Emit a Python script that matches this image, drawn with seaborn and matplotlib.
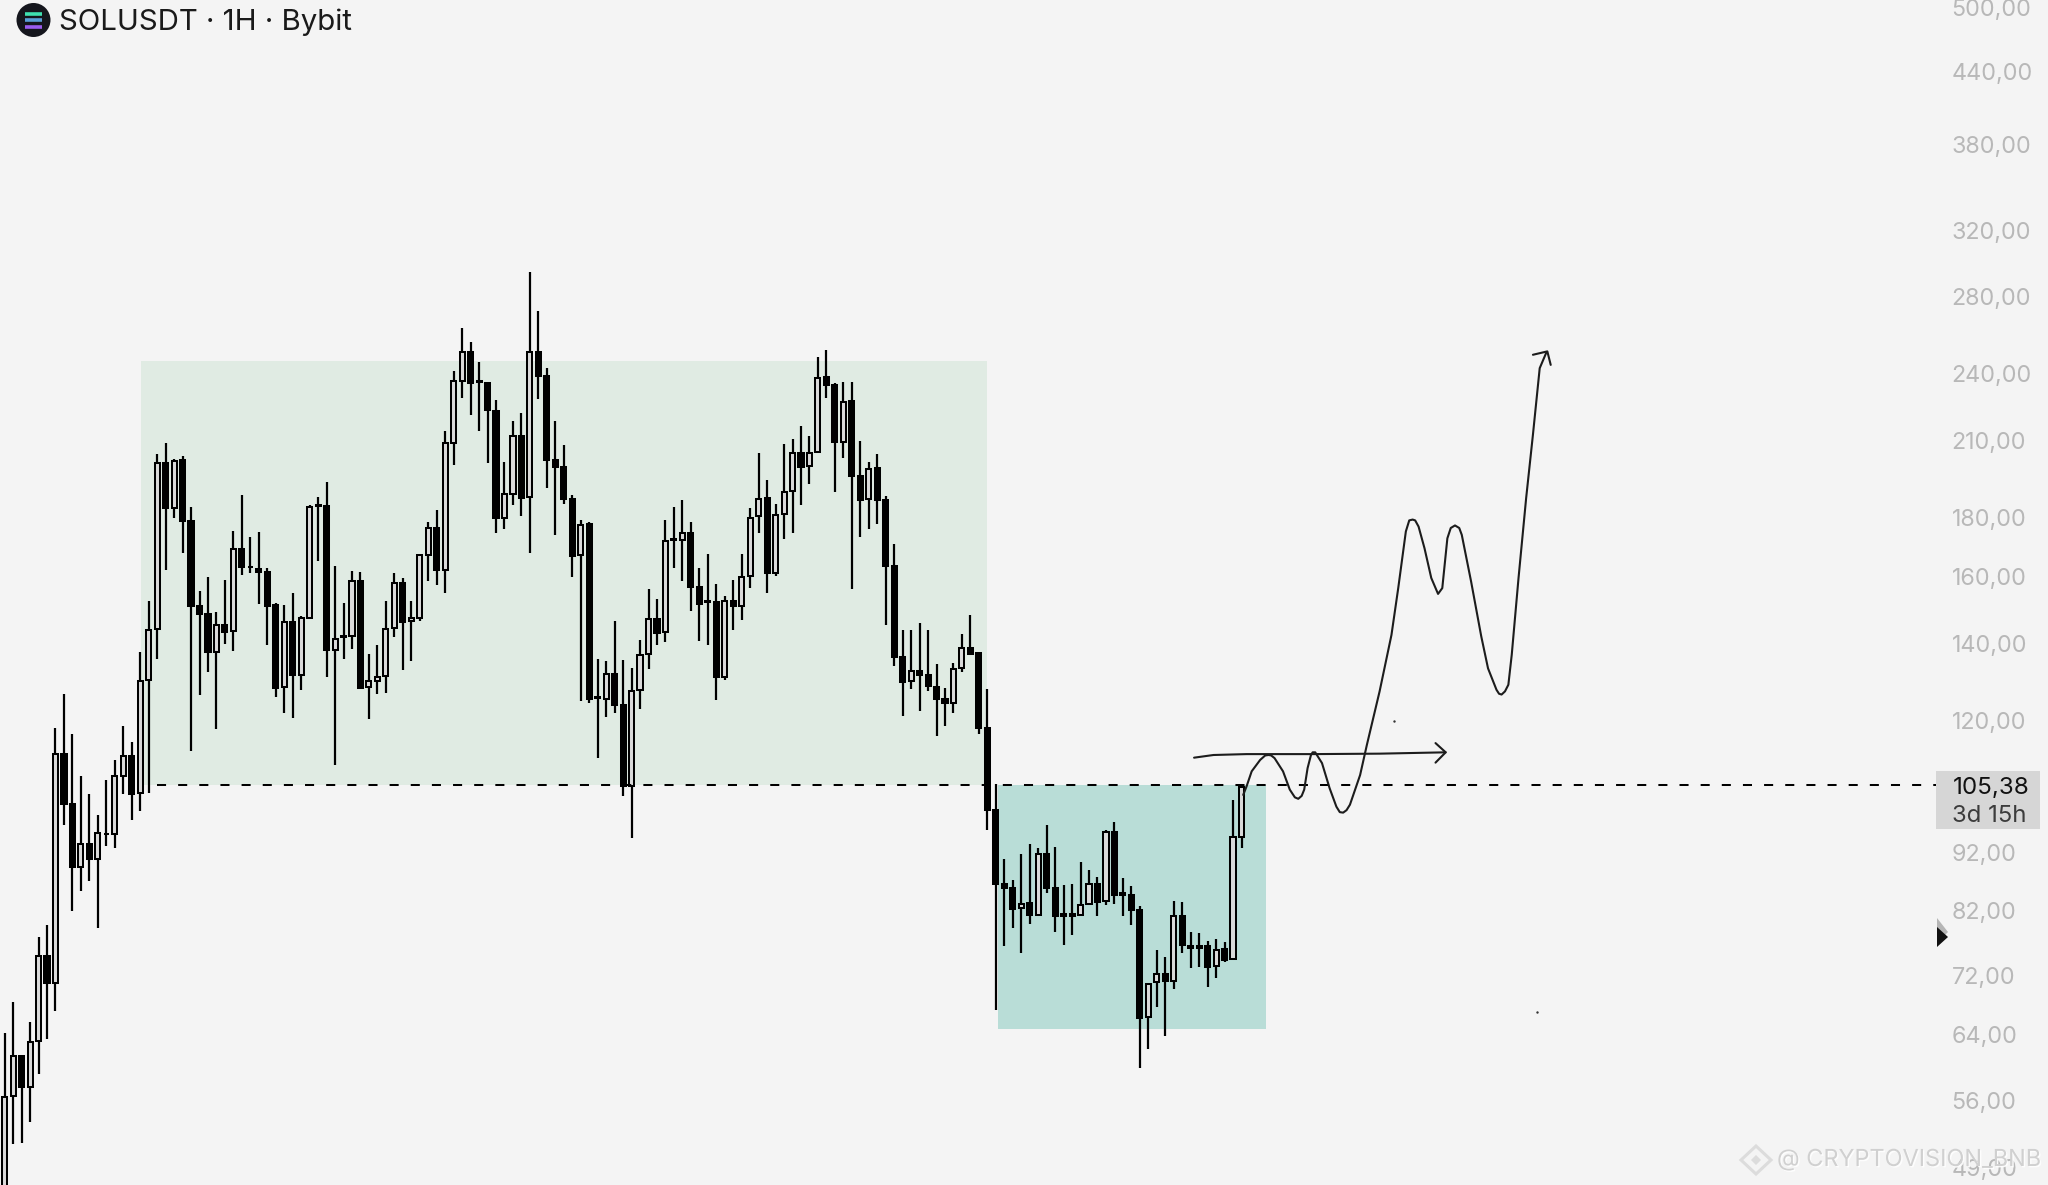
import matplotlib
matplotlib.use("Agg")
import matplotlib.pyplot as plt
import matplotlib.patheffects as pe
import numpy as np
import pandas as pd
import seaborn as sns
from matplotlib.lines import Line2D
from matplotlib.patches import Circle, Polygon, Rectangle
from matplotlib.ticker import NullLocator

# Candles
opens = [46.5, 56.5, 61.2, 57.6, 63.1, 74.8, 70.9, 112.1, 101.5, 89.5,
         93.7, 90.9, 95.6, 95.5, 107.3, 111.7, 103.6, 130.0, 144.0, 201.0,
         183.4, 201.9, 178.8, 150.8, 148.4, 137.5, 145.1, 143.3, 169.2, 163.2,
         162.5, 161.4, 151.0, 128.2, 146.0, 131.4, 147.2, 184.3, 184.3, 138.2,
         141.9, 142.0, 158.5, 128.2, 129.9, 131.2, 144.4, 157.9, 146.2, 147.2,
         167.0, 176.2, 162.1, 209.2, 236.8, 250.8, 236.8, 235.8, 223.0, 179.7,
         188.9, 211.8, 187.4, 250.9, 238.9, 201.9, 199.1, 187.0, 167.0, 177.6,
         125.6, 125.3, 131.7, 123.7, 105.2, 127.5, 137.0, 146.8, 143.1, 172.4,
         172.2, 174.5, 156.6, 152.2, 152.0, 130.8, 152.3, 150.9, 160.0, 180.5,
         187.1, 161.0, 181.3, 189.9, 204.7, 199.6, 205.3, 238.4, 234.9, 209.6,
         227.4, 195.5, 186.7, 198.7, 186.6, 163.4, 136.1, 129.7, 132.4, 131.3,
         128.3, 125.2, 124.3, 133.1, 138.7, 137.2, 118.2, 100.3, 86.5, 85.7,
         82.3, 83.2, 81.2, 91.8, 85.7, 81.4, 81.4, 81.2, 83.1, 86.4,
         83.5, 96.0, 84.8, 84.6, 82.0, 66.2, 71.0, 72.1, 71.2, 81.1,
         76.4, 76.3, 76.3, 73.3, 75.9, 74.3, 95.0]
closes = [56.4, 61.2, 57.6, 63.0, 74.8, 70.9, 112.1, 101.5, 89.5, 93.7,
          90.9, 95.7, 95.5, 107.3, 111.7, 103.5, 129.7, 143.7, 201.0, 183.4,
          201.7, 178.8, 150.8, 148.4, 137.5, 145.1, 143.2, 169.2, 162.9, 163.0,
          161.4, 150.8, 128.0, 146.0, 131.4, 147.2, 184.0, 184.6, 138.2, 141.2,
          141.7, 158.5, 127.9, 129.7, 130.9, 144.0, 157.9, 146.0, 147.2, 167.0,
          176.2, 162.1, 209.0, 236.5, 250.8, 235.6, 236.2, 223.2, 179.9, 188.6,
          211.8, 187.3, 250.9, 238.9, 201.9, 199.1, 186.9, 166.7, 177.3, 125.3,
          125.4, 131.7, 123.7, 105.2, 127.3, 136.8, 146.8, 143.0, 171.9, 172.2,
          174.4, 156.6, 151.4, 152.0, 130.8, 152.2, 150.9, 159.8, 180.0, 187.0,
          161.0, 181.0, 189.4, 204.7, 199.4, 205.0, 238.2, 234.9, 209.5, 227.1,
          195.5, 186.4, 198.5, 186.4, 163.4, 136.1, 129.6, 132.3, 131.3, 128.4,
          125.2, 124.3, 132.9, 138.6, 137.0, 118.2, 100.3, 86.5, 85.7, 82.2,
          83.1, 81.2, 91.7, 85.7, 81.0, 81.0, 81.1, 82.9, 86.4, 83.4,
          96.0, 84.6, 84.6, 82.0, 66.1, 70.8, 72.1, 71.1, 81.1, 76.5,
          76.0, 76.0, 73.2, 75.8, 74.2, 94.9, 104.9]
highs = [64.1, 68.3, 61.4, 65.5, 77.7, 79.6, 118.1, 126.4, 116.7, 107.2,
         103.5, 99.2, 106.5, 110.7, 118.6, 114.8, 137.5, 152.2, 204.3, 209.2,
         202.4, 203.6, 184.0, 155.5, 159.8, 149.1, 159.0, 175.1, 188.2, 173.3,
         174.9, 162.7, 151.6, 151.0, 154.7, 147.9, 184.6, 187.7, 193.4, 163.4,
         151.8, 161.9, 161.4, 137.1, 139.6, 152.2, 161.0, 159.4, 152.2, 167.4,
         178.6, 182.7, 214.3, 241.3, 263.1, 255.7, 245.6, 236.0, 227.9, 201.1,
         218.4, 222.0, 294.3, 272.2, 243.1, 218.5, 208.0, 188.5, 179.2, 178.4,
         135.7, 135.2, 146.4, 135.4, 133.1, 140.9, 155.9, 152.9, 179.0, 184.0,
         186.3, 178.3, 162.6, 167.3, 157.6, 153.8, 158.9, 167.3, 183.5, 204.9,
         193.9, 184.8, 208.5, 210.8, 216.4, 211.8, 248.5, 252.0, 235.8, 236.0,
         236.3, 210.0, 201.3, 204.3, 188.0, 170.7, 143.8, 143.8, 145.7, 143.8,
         134.4, 128.0, 134.5, 142.6, 148.0, 137.3, 127.6, 105.6, 90.8, 87.2,
         91.7, 93.6, 92.8, 97.2, 93.0, 86.3, 86.5, 90.3, 88.9, 87.7,
         96.3, 97.9, 87.5, 86.0, 82.7, 70.9, 75.7, 74.7, 83.5, 83.3,
         78.5, 78.4, 77.1, 77.4, 76.9, 102.2, 105.3]
lows = [45.0, 51.3, 51.4, 53.7, 59.1, 63.4, 67.0, 97.2, 81.8, 85.3,
        86.9, 79.2, 93.2, 92.9, 103.5, 98.3, 100.1, 103.6, 135.7, 162.1,
        179.7, 167.8, 112.9, 126.1, 132.2, 117.9, 139.7, 137.7, 160.5, 161.0,
        151.3, 139.4, 125.8, 121.6, 120.6, 127.4, 146.8, 165.0, 130.9, 109.6,
        135.7, 138.3, 127.6, 120.2, 126.5, 126.8, 141.7, 132.7, 135.2, 146.4,
        158.5, 157.3, 154.7, 200.0, 228.7, 220.9, 214.0, 201.0, 174.7, 175.8,
        184.6, 180.7, 167.7, 228.4, 190.9, 173.9, 184.8, 159.8, 124.7, 124.1,
        111.2, 120.8, 121.7, 103.0, 94.7, 122.7, 133.0, 139.5, 140.4, 162.8,
        158.4, 149.4, 140.6, 139.6, 125.0, 130.0, 143.8, 146.7, 156.2, 174.5,
        154.8, 160.0, 172.3, 174.7, 184.5, 192.6, 204.8, 228.9, 189.6, 203.0,
        156.0, 173.1, 176.0, 177.6, 145.1, 133.8, 120.9, 127.8, 122.2, 127.3,
        116.2, 118.5, 121.6, 132.0, 137.0, 116.7, 96.2, 67.2, 76.3, 79.2,
        75.3, 79.7, 81.1, 84.9, 78.5, 76.5, 78.1, 81.1, 82.9, 81.1,
        82.9, 83.1, 81.1, 79.6, 59.8, 62.1, 67.6, 63.8, 70.1, 75.3,
        73.1, 73.2, 70.3, 71.6, 73.9, 74.2, 92.9]

# Right hand price scale
tick_prices = [500, 440, 380, 320, 280, 240, 210, 180, 160, 140, 120, 92, 82, 72, 64, 56, 49]
tick_labels = ["500,00", "440,00", "380,00", "320,00", "280,00", "240,00", "210,00", "180,00",
               "160,00", "140,00", "120,00", "92,00", "82,00", "72,00", "64,00", "56,00", "49,00"]
last_price = 105.38

# Shaded zones: bar range and price range
supply_bars = [16.15, 115.9]
supply_prices = [105.38, 246.5]
demand_bars = [117.2, 148.85]
demand_prices = [64.6, 105.38]

# The hand drawn path
path_bars = [146.2, 146.6, 147.2, 148.2, 148.8, 149.2, 149.5, 149.9, 150.9, 151.7, 152.3, 152.7,
             153.1, 153.4, 153.8, 154.2, 154.4, 154.7, 155.5, 156.4, 157.2, 157.6, 158.0, 158.4,
             158.8, 160.0, 160.8, 162.3, 163.7, 164.5, 165.4, 165.8, 166.2, 166.5, 166.9, 167.6,
             168.4, 169.2, 169.7, 170.3, 170.7, 171.2, 171.7, 172.0, 173.1, 174.3, 175.1, 176.1,
             176.4, 176.7, 177.1, 177.5, 177.9, 178.7, 179.6, 180.4, 181.2, 182.0]
path_prices = [103.3, 105.1, 108.3, 110.8, 111.8, 111.9, 111.8, 111.2, 108.3, 104.4, 102.8, 102.5,
               103.1, 104.4, 109.0, 111.9, 112.5, 112.5, 110.1, 104.7, 100.9, 99.8, 99.7, 100.2,
               101.3, 107.5, 114.2, 127.1, 142.3, 156.3, 175.1, 179.0, 179.3, 179.0, 176.8, 169.3,
               159.5, 154.5, 156.3, 172.7, 176.3, 177.2, 176.3, 173.9, 158.4, 141.9, 133.1, 127.5,
               126.5, 126.3, 127.1, 128.8, 136.8, 159.5, 187.2, 212.5, 242.8, 250.7]
path_head_bars = [180.4, 182.1, 182.5]
path_head_prices = [249.4, 251.1, 244.4]
level_bars = [140.4, 142.7, 146.6, 154.5, 162.3, 170.1]
level_prices = [111.3, 111.9, 112.1, 112.1, 112.2, 112.5]
level_head_bars = [168.9, 170.1, 168.9]
level_head_prices = [114.6, 112.5, 110.2]
speck_bars = [164.0, 180.9]
speck_prices = [119.7, 66.9]

BG = "#f4f4f4"
GREY_TICK = "#b8b8b8"
INK = "#1c1c1c"


def fx(x):
    return x / 2048


def fy(y):
    return 1 - y / 1185


sns.set_theme(style="white", rc={"figure.facecolor": BG, "axes.facecolor": BG})
plt.rcParams["font.family"] = ["Inter", "DejaVu Sans"]

fig = plt.figure(figsize=(20.48, 11.85), dpi=100)
ax = fig.add_axes([0, 0, 1, 1])
ax.set_yscale("log")

df = pd.DataFrame({"open": opens, "high": highs, "low": lows, "close": closes})
df["bar"] = np.arange(len(df))
df["up"] = df["close"] >= df["open"]

# zones
ax.add_patch(Rectangle((supply_bars[0], supply_prices[0]), supply_bars[1] - supply_bars[0],
                       supply_prices[1] - supply_prices[0], fc="#e0ebe3", ec="none", zorder=1))
ax.add_patch(Rectangle((demand_bars[0], demand_prices[0]), demand_bars[1] - demand_bars[0],
                       demand_prices[1] - demand_prices[0], fc="#b9ddd7", ec="none", zorder=1))

# wicks, one unit per candle
wicks = df.melt(id_vars="bar", value_vars=["low", "high"], value_name="price")
sns.lineplot(data=wicks, x="bar", y="price", units="bar", estimator=None, sort=False,
             color="black", linewidth=1.6, solid_capstyle="butt", zorder=3, ax=ax)

# bodies
bottoms = df[["open", "close"]].min(axis=1)
tops = df[["open", "close"]].max(axis=1)
ax.bar(df["bar"], tops - bottoms, bottom=bottoms, width=0.6,
       color=["#dadada" if u else "black" for u in df["up"]],
       edgecolor="black", linewidth=1.45, zorder=4)

# last price line
sns.lineplot(x=[18.0, 228.0], y=[last_price, last_price], color="black", linewidth=1.45,
             linestyle=(0, (4.5, 6)), zorder=5, ax=ax)

# hand drawing
for xs, ys in [(path_bars, path_prices), (path_head_bars, path_head_prices),
               (level_bars, level_prices), (level_head_bars, level_head_prices)]:
    sns.lineplot(x=xs, y=ys, sort=False, estimator=None, color=INK, linewidth=1.5,
                 solid_joinstyle="round", solid_capstyle="round", zorder=6, ax=ax)
ax.scatter(speck_bars, speck_prices, s=3, color="#333333", linewidths=0, zorder=6)

ax.set_xlim(-0.551, 241.2)
ax.set_ylim(47.3, 507.5)
ax.set_xlabel("")
ax.set_ylabel("")
ax.set_xticks([])
ax.set_yticks(tick_prices, tick_labels)
ax.yaxis.set_minor_locator(NullLocator())
ax.yaxis.tick_right()
ax.tick_params(axis="y", which="major", length=0, pad=-69.5, labelsize=16.8, labelcolor=GREY_TICK)
for lab in ax.get_yticklabels():
    lab.set_horizontalalignment("left")
sns.despine(ax=ax, left=True, bottom=True, right=True, top=True)

# price box
fig.add_artist(Rectangle((fx(1936), fy(829)), 104 / 2048, 58 / 1185, transform=fig.transFigure,
                         fc="#d6d6d6", ec="none", zorder=7))
fig.text(fx(1952.5), fy(787.5), "105,38", fontsize=17.4, color="#111111", va="center", ha="left", zorder=8)
fig.text(fx(1952.5), fy(815.5), "3d 15h", fontsize=17.2, color="#3c3c3c", va="center", ha="left", zorder=8)

# little marker on the scale
fig.add_artist(Polygon([(fx(1937), fy(918)), (fx(1948), fy(932)), (fx(1937), fy(943))],
                       transform=fig.transFigure, fc="#b5b5b5", ec="none", zorder=7))
fig.add_artist(Polygon([(fx(1937), fy(927)), (fx(1948), fy(937)), (fx(1937), fy(947))],
                       transform=fig.transFigure, fc="#111111", ec="none", zorder=8))

# title and coin icon
fig.add_artist(Circle((33.5, 1185 - 20), 17, transform=None, fc="#15161d", ec="none", zorder=8))
for yy, col in [(13.5, "#3fe0b0"), (20, "#5a9fd8"), (26.5, "#9a5cf0")]:
    fig.add_artist(Line2D([fx(25), fx(42)], [fy(yy), fy(yy)], transform=fig.transFigure,
                          color=col, lw=2.6, solid_capstyle="butt", zorder=9))
fig.text(fx(59), fy(22.5), "SOLUSDT · 1H · Bybit", fontsize=21.2, color="#1a1a1a", va="center", ha="left", zorder=8)

# watermark
shadow = [pe.withSimplePatchShadow(offset=(1, -1), shadow_rgbFace="white", alpha=0.9)]
fig.text(fx(1777), fy(1160), "@ CRYPTOVISION_BNB", fontsize=16.9, color="#d0d0d0", va="center", ha="left",
         path_effects=shadow, zorder=8)
fig.add_artist(Polygon([(fx(1756), fy(1146)), (fx(1771), fy(1160)), (fx(1756), fy(1174)), (fx(1741), fy(1160))],
                       transform=fig.transFigure, fc="none", ec="#dcdcdc", lw=2.2, zorder=8))
fig.add_artist(Polygon([(fx(1756), fy(1155)), (fx(1761), fy(1160)), (fx(1756), fy(1165)), (fx(1751), fy(1160))],
                       transform=fig.transFigure, fc="#dcdcdc", ec="none", zorder=8))

fig.savefig("out.png", dpi=100, facecolor=BG)
